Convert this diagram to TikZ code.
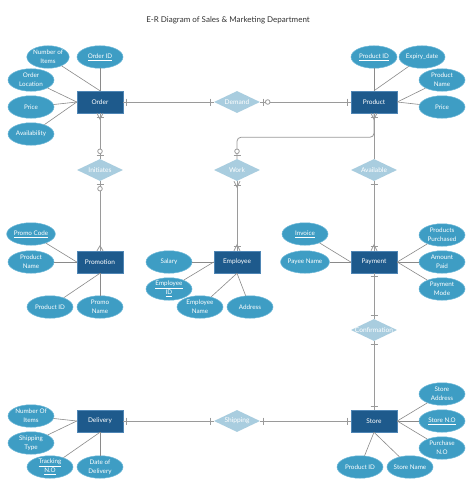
\documentclass[tikz,border=0pt]{standalone}
\usepackage{fontspec}
\setmainfont{Lato}
\usetikzlibrary{shapes.geometric,calc}
\definecolor{entc}{HTML}{1E5A8C}
\definecolor{entb}{HTML}{4F86B5}
\definecolor{attc}{HTML}{3E9DC4}
\definecolor{attb}{HTML}{6DB8D8}
\definecolor{relc}{HTML}{A9CDDF}
\definecolor{lnc}{HTML}{8A8A8A}
\definecolor{cnc}{HTML}{9A9A9A}
\definecolor{ttl}{HTML}{333333}
\newcommand\tickH[2]{\draw[conn] ($(#1)+(#2,-3.5)$) -- ($(#1)+(#2,3.5)$);}
\newcommand\tickV[2]{\draw[conn] ($(#1)+(-3.5,#2)$) -- ($(#1)+(3.5,#2)$);}
\newcommand\ringH[2]{\draw[conn,fill=white] ($(#1)+(#2,0)$) circle (2.3);}
\newcommand\ringV[2]{\draw[conn,fill=white] ($(#1)+(0,#2)$) circle (2.3);}
\newcommand\crowV[2]{\draw[conn] ($(#1)+(-3,0)$) -- ($(#1)+(0,#2)$) -- ($(#1)+(3,0)$);}
\begin{document}
\begin{tikzpicture}[x=1pt,y=-1pt,
  ent/.style={rectangle,draw=entb,line width=0.5pt,fill=entc,text=white,minimum width=46pt,minimum height=22pt,inner sep=0pt,font=\fontsize{6.5}{7.5}\selectfont},
  attr/.style={ellipse,draw=attb,line width=0.5pt,fill=attc,text=white,minimum width=46pt,minimum height=22.5pt,inner sep=0pt,align=center,font=\fontsize{6.3}{8.8}\selectfont},
  rel/.style={diamond,fill=relc,minimum width=46pt,minimum height=22pt,inner sep=0pt},
  reltxt/.style={text=white,inner sep=0pt,font=\fontsize{6.6}{7.5}\selectfont},
  aline/.style={draw=lnc,line width=0.6pt},
  conn/.style={draw=cnc,line width=0.8pt},
  title/.style={text=ttl,font=\fontsize{8}{9.6}\selectfont}]
\useasboundingbox[fill=white] (0,0) rectangle (474,487);
\node[title] (title) at (228,20) {E-R Diagram of Sales \& Marketing Department};
% entities
\node[ent] (order) at (100,102) {Order};
\node[ent] (product) at (374,102) {Product};
\node[ent] (promo) at (100,262) {Promotion};
\node[ent] (emp) at (237,262) {Employee};
\node[ent] (pay) at (374,262) {Payment};
\node[ent] (deliv) at (100,421) {Delivery};
\node[ent] (store) at (374,421) {Store};
% relationships
\node[rel,label={[reltxt]center:Demand}] (demand) at (237,102) {};
\node[rel,label={[reltxt]center:Initiates}] (initiates) at (100,170) {};
\node[rel,label={[reltxt]center:Work}] (work) at (237,170) {};
\node[rel,label={[reltxt]center:Available}] (available) at (374,170) {};
\node[rel,label={[reltxt]center:Confirmation}] (confirm) at (374,330) {};
\node[rel,label={[reltxt]center:Shipping}] (shipping) at (237,421) {};
% attributes: order
\node[attr,minimum width=42pt] (o1) at (48,57) {Number of\\Items};
\node[attr] (o2) at (100,57) {\underline{Order ID}};
\node[attr] (o3) at (31,80) {Order\\Location};
\node[attr] (o4) at (31,107) {Price};
\node[attr] (o5) at (31,134) {Availability};
% product
\node[attr] (p1) at (374,57) {\underline{Product ID}};
\node[attr] (p2) at (422,57) {Expiry\_date};
\node[attr] (p3) at (442,80) {Product\\Name};
\node[attr] (p4) at (442,107) {Price};
% promotion
\node[attr] (m1) at (31,234) {\underline{Promo Code}};
\node[attr] (m2) at (31,262) {Product\\Name};
\node[attr] (m3) at (50,307) {Product ID};
\node[attr] (m4) at (100,307) {Promo\\Name};
% employee
\node[attr] (e1) at (169,262) {Salary};
\node[attr] (e2) at (169,289) {\underline{Employee}\\\underline{ID}};
\node[attr] (e3) at (200,307) {Employee\\Name};
\node[attr] (e4) at (250,307) {Address};
% payment
\node[attr] (y1) at (305,234) {\underline{Invoice}};
\node[attr] (y2) at (305,262) {Payee Name};
\node[attr] (y3) at (442,235) {Products\\Purchased};
\node[attr] (y4) at (442,262) {Amount\\Paid};
\node[attr] (y5) at (442,289) {Payment\\Mode};
% delivery
\node[attr] (d1) at (31,416) {Number Of\\Items};
\node[attr] (d2) at (31,443) {Shipping\\Type};
\node[attr] (d3) at (50,467) {\underline{Tracking}\\\underline{N.O}};
\node[attr] (d4) at (100,467) {Date of\\Delivery};
% store
\node[attr] (s1) at (442,394) {Store\\Address};
\node[attr] (s2) at (442,421) {\underline{Store N.O}};
\node[attr] (s3) at (442,448) {Purchase\\N.O};
\node[attr] (s4) at (360,467) {Product ID};
\node[attr] (s5) at (410,467) {Store Name};
% attribute lines
\foreach \a/\b in {o1/order.north,o2/order.north,o3/order.west,o4/order.west,o5/order.west,
  p1/product.north,p2/product.north,p3/product.east,p4/product.east,
  m1/promo.west,m2/promo.west,m3/promo.south,m4/promo.south,
  e1/emp.west,e2/emp.west,e3/emp.south,e4/emp.south,
  y1/pay.west,y2/pay.west,y3/pay.east,y4/pay.east,y5/pay.east,
  d1/deliv.west,d2/deliv.west,d3/deliv.south,d4/deliv.south,
  s1/store.east,s2/store.east,s3/store.east,s4/store.south,s5/store.south}
  {\draw[aline] (\a) -- (\b);}
% connectors
\draw[conn] (order) -- (demand);
\draw[conn] (demand) -- (product);
\draw[conn] (order) -- (initiates);
\draw[conn] (initiates) -- (promo);
\draw[conn] (product) -- (available);
\draw[conn,rounded corners=4pt] (product.south) -- ++(0,24) -| (work.north);
\draw[conn] (work) -- (emp);
\draw[conn] (available) -- (pay);
\draw[conn] (pay) -- (confirm);
\draw[conn] (confirm) -- (store);
\draw[conn] (deliv) -- (shipping);
\draw[conn] (shipping) -- (store);
% markers
\tickH{order.east}{3} \tickH{demand.west}{-3}
\tickH{demand.east}{3} \ringH{demand.east}{7.5} \tickH{product.west}{-3}
\crowV{order.south}{6} \tickV{order.south}{4}
\tickV{initiates.north}{-3} \ringV{initiates.north}{-7.5}
\tickV{initiates.south}{3} \ringV{initiates.south}{7.5}
\crowV{promo.north}{-5}
\crowV{product.south}{6} \tickV{product.south}{4}
\tickV{work.north}{-3} \ringV{work.north}{-7.5}
\crowV{work.south}{6} \tickV{work.south}{4}
\crowV{emp.north}{-6} \tickV{emp.north}{-4}
\tickV{available.south}{3}
\crowV{pay.north}{-6} \tickV{pay.north}{-4}
\tickV{pay.south}{3} \tickV{confirm.north}{-3}
\tickV{confirm.south}{3} \tickV{store.north}{-3}
\tickH{deliv.east}{3} \tickH{shipping.west}{-3}
\tickH{shipping.east}{3} \tickH{store.west}{-3}
\end{tikzpicture}
\end{document}
